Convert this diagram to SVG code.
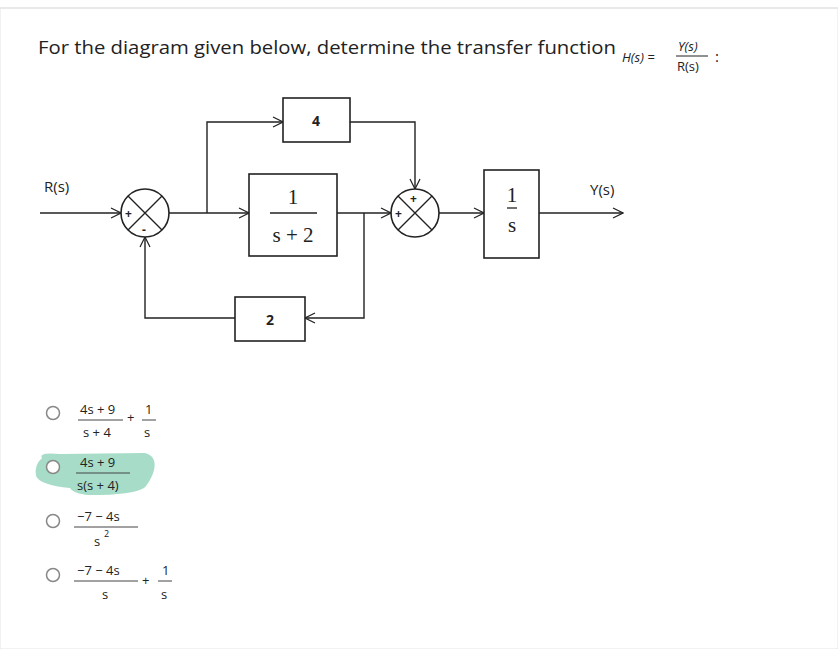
<svg xmlns="http://www.w3.org/2000/svg" width="838" height="649" viewBox="0 0 838 649">
<defs>
<marker id="a" markerWidth="12" markerHeight="12" refX="11" refY="6" orient="auto" markerUnits="userSpaceOnUse"><path d="M1,1 L11,6 L1,11" fill="none" stroke="#222" stroke-width="1.2"/></marker>
<style>
.b{fill:#fff;stroke:#222;stroke-width:1.6}
.l{fill:none;stroke:#222;stroke-width:1.4;marker-end:url(#a)}
.p{fill:none;stroke:#222;stroke-width:1.4}
.t{font-family:"Open Sans","Liberation Sans",sans-serif;fill:#222}
.s{font-family:"Liberation Serif",serif;fill:#222}
.o{fill:#fff;stroke:#888;stroke-width:1.5}
</style>
</defs>
<rect width="838" height="649" fill="#fff"/>
<line x1="0" y1="8" x2="838" y2="8" stroke="#ddd"/>
<rect x="0" y="8" width="838" height="641" fill="none" stroke="#e4e4e4"/>
<text class="t" x="38" y="54" font-size="19" textLength="578" lengthAdjust="spacingAndGlyphs">For the diagram given below, determine the transfer function</text>
<text class="t" x="622" y="62" font-size="13" font-style="italic">H(s) =</text>
<text class="t" x="678" y="51" font-size="13" font-style="italic">Y(s)</text>
<line x1="676" y1="56" x2="708" y2="56" stroke="#222"/>
<text class="t" x="677" y="71" font-size="13">R(s)</text>
<text class="t" x="715" y="62" font-size="15">:</text>

<g id="connectors">
<path class="l" d="M40,213 L121,213"/>
<path class="p" d="M169,213 L207,213"/>
<path class="l" d="M207,213 L249,213"/>
<path class="l" d="M207,213 L207,122 L283,122"/>
<path class="l" d="M350,122 L415,122 L415,189"/>
<path class="l" d="M337,213 L391,213"/>
<path class="l" d="M364,213 L364,318 L305,318"/>
<path class="l" d="M235,318 L145,318 L145,237"/>
<path class="l" d="M439,213 L484,213"/>
<path class="l" d="M539,213 L623,213"/>
</g>
<g id="r"><text class="t" x="44" y="192" font-size="15">R(s)</text></g>
<g id="y"><text class="t" x="590" y="195" font-size="15">Y(s)</text></g>
<g id="sum1">
<circle class="b" cx="145" cy="213" r="24"/>
<path class="p" d="M128,196 L162,230 M162,196 L128,230"/>
<text class="t" x="125" y="218" font-size="12" font-weight="bold">+</text>
<text class="t" x="142" y="234" font-size="12" font-weight="bold">-</text>
</g>
<g id="sum2">
<circle class="b" cx="415" cy="213" r="24"/>
<path class="p" d="M398,196 L432,230 M432,196 L398,230"/>
<text class="t" x="395" y="218" font-size="12" font-weight="bold">+</text>
<text class="t" x="410" y="203" font-size="12" font-weight="bold">+</text>
</g>
<g id="g4"><rect class="b" x="283" y="98" width="67" height="44"/><text class="t" x="316" y="126" font-size="14" font-weight="bold" text-anchor="middle">4</text></g>
<g id="g1"><rect class="b" x="249" y="174" width="88" height="82"/>
<text class="s" x="293" y="204" font-size="21" text-anchor="middle">1</text>
<line x1="270" y1="213" x2="317" y2="213" stroke="#222" stroke-width="1.3"/>
<text class="s" x="293" y="242" font-size="21" text-anchor="middle">s + 2</text></g>
<g id="gi"><rect class="b" x="484" y="170" width="55" height="88"/>
<text class="s" x="512" y="202" font-size="21" text-anchor="middle">1</text>
<line x1="507" y1="208" x2="517" y2="208" stroke="#222" stroke-width="1.3"/>
<text class="s" x="512" y="232" font-size="21" text-anchor="middle">s</text></g>
<g id="g2"><rect class="b" x="235" y="297" width="70" height="44"/><text class="t" x="270" y="325" font-size="14" font-weight="bold" text-anchor="middle">2</text></g>

<path d="M42,458 Q38,452 60,454 L145,453 Q157,456 154,470 Q152,478 146,486 Q140,494 100,495 Q75,496 70,488 Q40,485 36,476 Q34,465 42,458Z" fill="#a6dcc8"/>
<g id="opts" class="t" font-size="13">
<circle class="o" cx="53" cy="413" r="6.5"/>
<text x="80" y="414">4s + 9</text><line x1="78" y1="420" x2="123" y2="420" stroke="#444"/><text x="83" y="437">s + 4</text>
<text x="127" y="422">+</text><text x="145" y="414">1</text><line x1="142" y1="420" x2="156" y2="420" stroke="#444"/><text x="144" y="437">s</text>
<circle class="o" cx="53" cy="467" r="6.5"/>
<text x="80" y="467">4s + 9</text><line x1="76" y1="473" x2="130" y2="473" stroke="#444"/><text x="77" y="490">s(s + 4)</text>
<circle class="o" cx="53" cy="521" r="6.5"/>
<text x="77" y="521">−7 − 4s</text><line x1="74" y1="527" x2="138" y2="527" stroke="#444"/><text x="94" y="546">s</text><text x="104" y="537" font-size="9">2</text>
<circle class="o" cx="53" cy="575" r="6.5"/>
<text x="77" y="575">−7 − 4s</text><line x1="74" y1="581" x2="138" y2="581" stroke="#444"/><text x="102" y="599">s</text>
<text x="142" y="585">+</text><text x="162" y="575">1</text><line x1="158" y1="581" x2="172" y2="581" stroke="#444"/><text x="161" y="599">s</text>
</g>
</svg>
